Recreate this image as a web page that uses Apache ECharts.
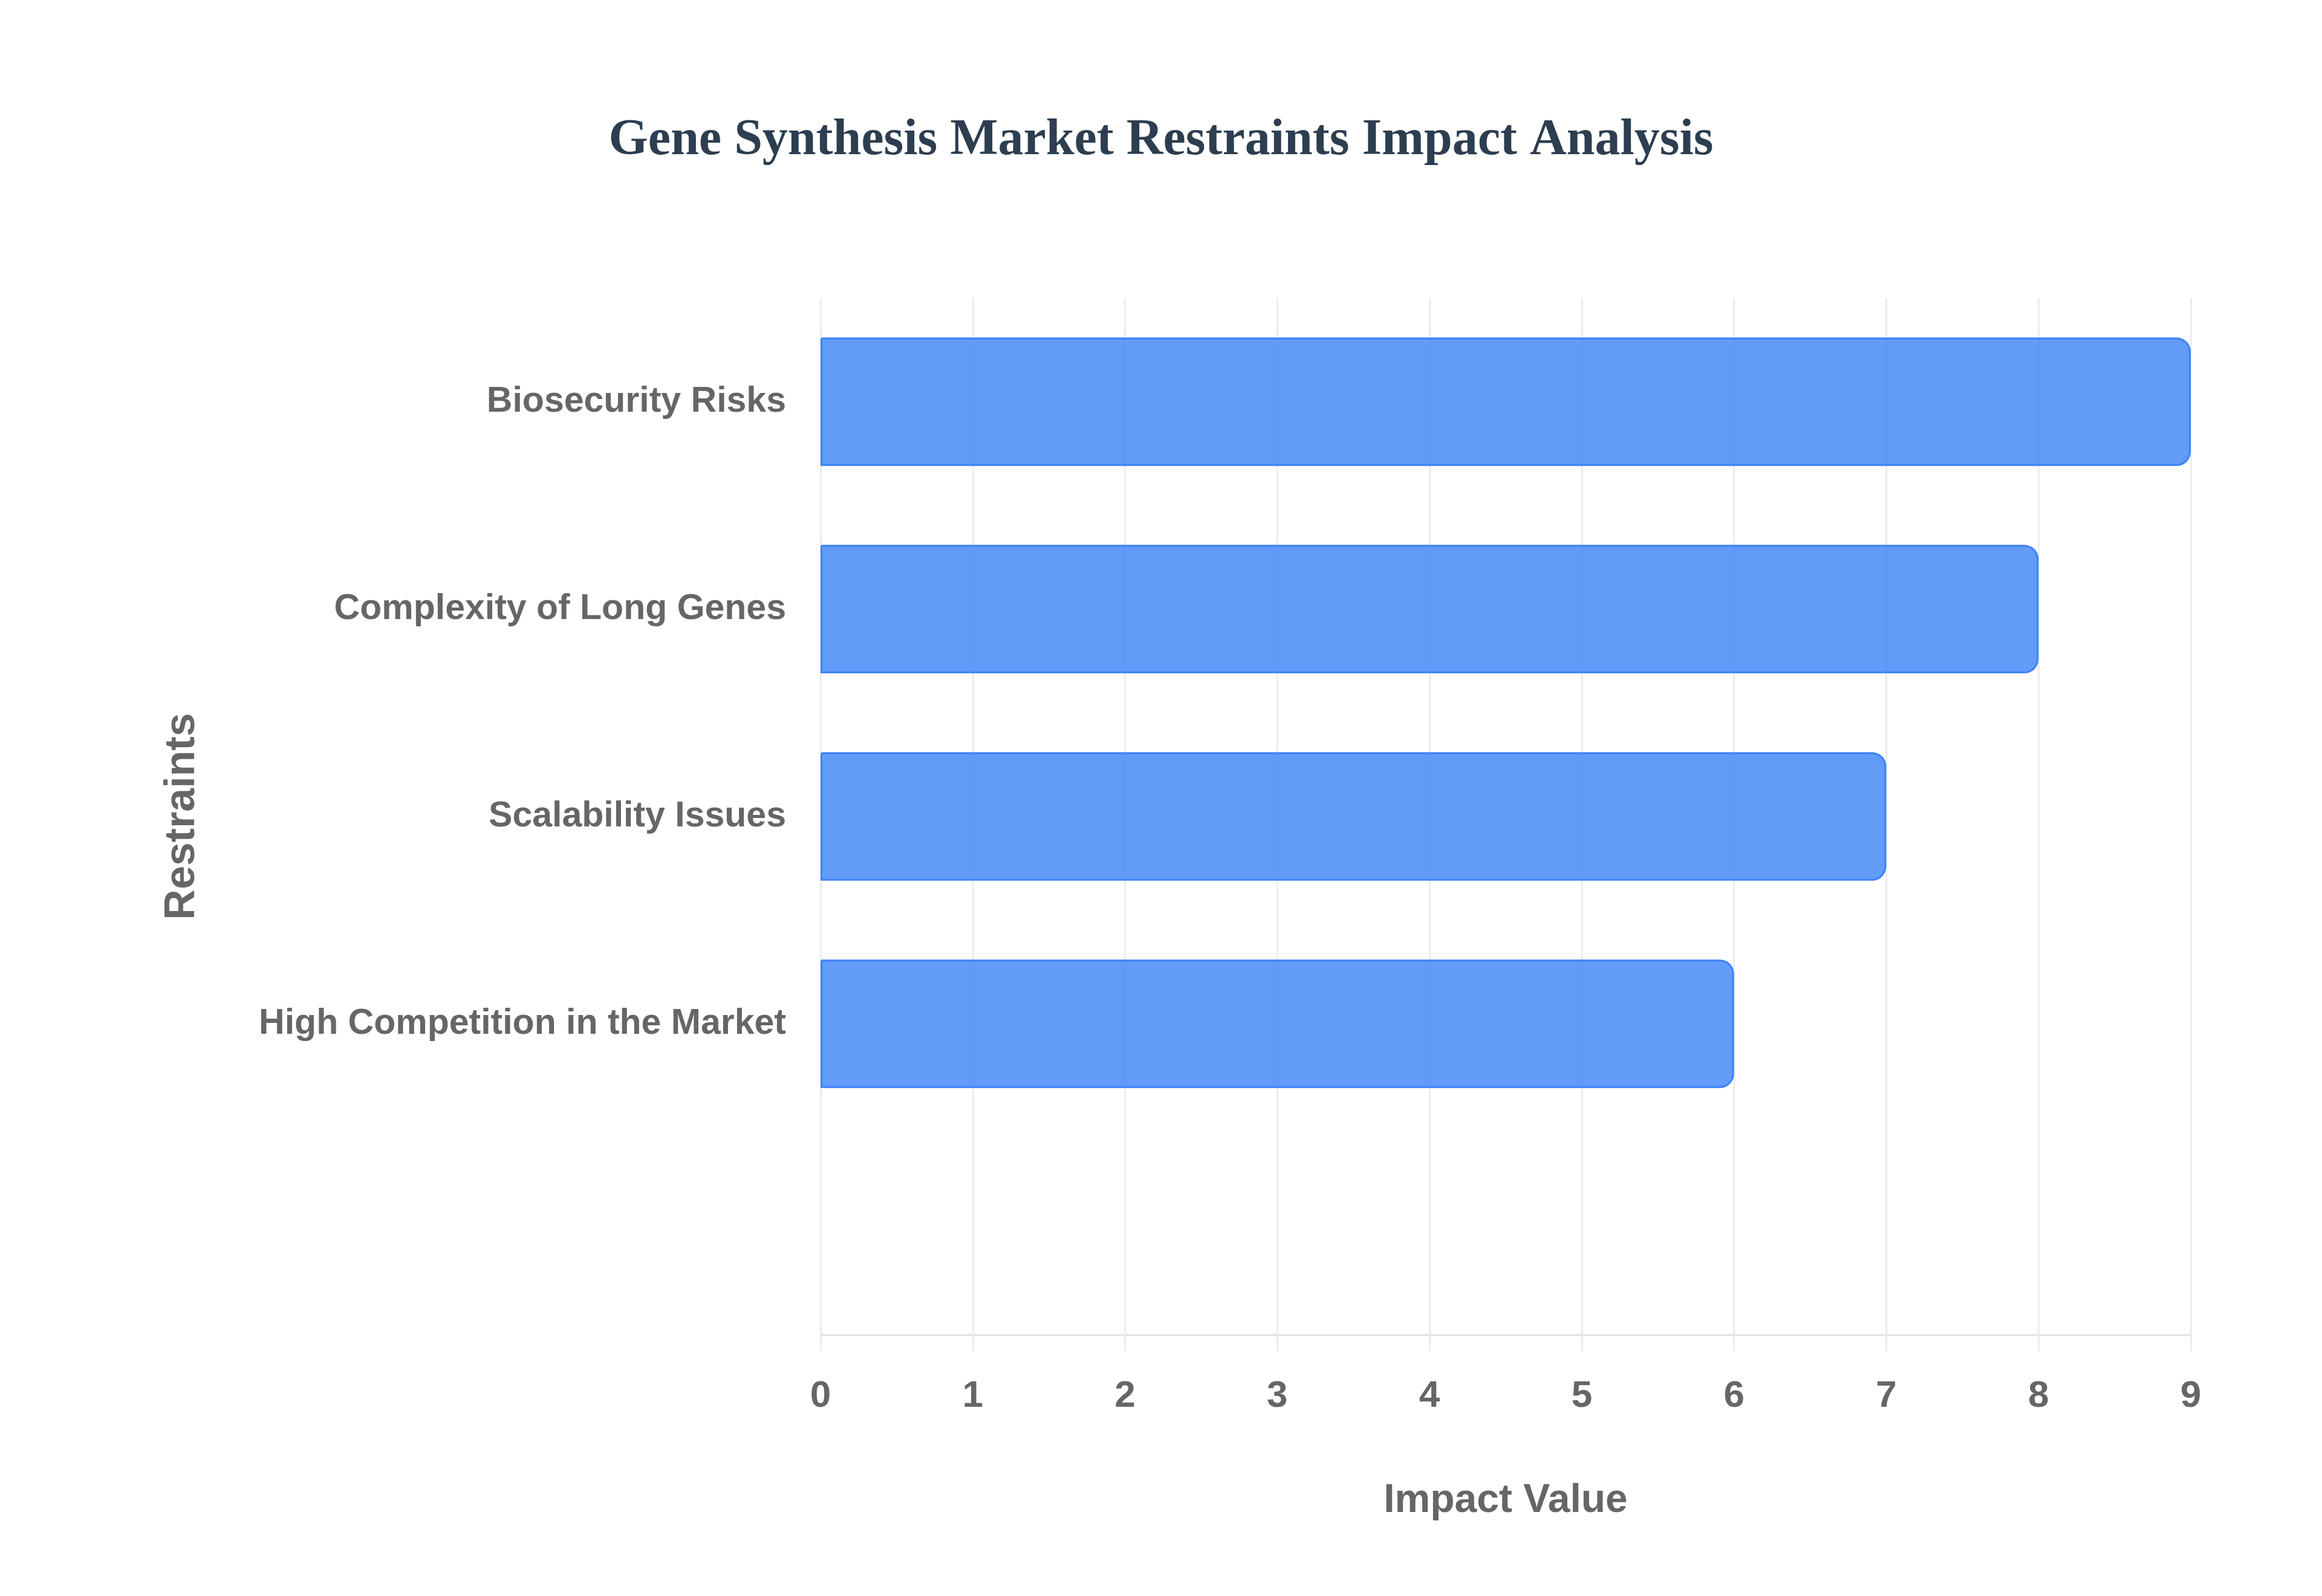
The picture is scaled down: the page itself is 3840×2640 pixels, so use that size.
<!DOCTYPE html>
<html>
<head>
<meta charset="utf-8">
<script src="https://cdn.jsdelivr.net/npm/echarts@6/dist/echarts.min.js"></script>
<style>
html,body{margin:0;padding:0;background:#fff;}
#chart{width:3840px;height:2640px;}
</style>
</head>
<body>
<div id="chart"></div>
<script>
// Data (top to bottom as displayed; last slot is empty in the reference)
const categories = ['Biosecurity Risks', 'Complexity of Long Genes', 'Scalability Issues', 'High Competition in the Market', ''];
const impactValues = [9, 8, 7, 6, null];
const xTicks = [0, 1, 2, 3, 4, 5, 6, 7, 8, 9];

const chart = echarts.init(document.getElementById('chart'), null, {renderer: 'canvas'});
const labelFont = "'Liberation Sans', Arial, Helvetica, sans-serif";

chart.setOption({
  backgroundColor: '#ffffff',
  animation: false,
  title: {
    text: 'Gene Synthesis Market Restraints Impact Analysis',
    left: 'center',
    top: 186,
    textStyle: {
      fontFamily: "'Liberation Serif', 'Times New Roman', serif",
      fontWeight: 'bold',
      fontSize: 84,
      color: '#2c3e50'
    }
  },
  grid: {
    left: 1357,
    right: 217,
    top: 493,
    bottom: 432,
    containLabel: false,
    outerBoundsMode: 'none'
  },
  xAxis: {
    type: 'value',
    min: xTicks[0],
    max: xTicks[xTicks.length - 1],
    interval: 1,
    name: 'Impact Value',
    nameLocation: 'middle',
    nameGap: 242,
    nameTextStyle: {
      fontFamily: labelFont,
      fontWeight: 'bold',
      fontSize: 66,
      color: '#666666'
    },
    axisLine: {show: true, lineStyle: {color: '#e3e3e3', width: 3}},
    axisTick: {show: true, length: 27, lineStyle: {color: '#ececec', width: 3}},
    axisLabel: {
      margin: 71,
      fontFamily: labelFont,
      fontWeight: 'bold',
      fontSize: 62,
      color: '#666666'
    },
    splitLine: {show: true, lineStyle: {color: '#ececec', width: 3}}
  },
  yAxis: {
    type: 'category',
    inverse: true,
    data: categories,
    name: 'Restraints',
    nameLocation: 'middle',
    nameGap: 1020,
    nameRotate: 90,
    nameTextStyle: {
      fontFamily: labelFont,
      fontWeight: 'bold',
      fontSize: 70,
      color: '#666666'
    },
    axisLine: {show: false},
    axisTick: {show: false},
    axisLabel: {
      margin: 57,
      fontFamily: labelFont,
      fontWeight: 'bold',
      fontSize: 59,
      color: '#666666'
    },
    splitLine: {show: false}
  },
  series: [{
    type: 'bar',
    data: impactValues,
    barCategoryGap: '38%',
    itemStyle: {
      color: 'rgba(59,130,246,0.8)',
      borderColor: '#3b82f6',
      borderWidth: 3,
      borderRadius: [0, 22, 22, 0]
    }
  }]
});
</script>
</body>
</html>
